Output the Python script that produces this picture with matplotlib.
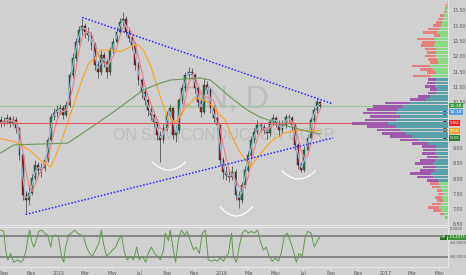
import datetime as dt

import matplotlib
matplotlib.use("Agg")
import matplotlib.dates as mdates
import matplotlib.pyplot as plt
import matplotlib.transforms as mtransforms
import numpy as np
import pandas as pd

START = dt.date(2014, 8, 25)
BG = "#d0d0d0"

# weekly candles
closes = [9.82, 9.88, 9.98, 9.82, 9.92, 9.65, 8.77, 7.46, 7.30, 7.53,
          8.02, 8.44, 8.28, 8.35, 8.60, 9.26, 10.00, 10.14, 10.24, 10.30,
          10.08, 10.40, 11.39, 11.94, 12.46, 12.86, 13.00, 12.80, 12.70, 12.37,
          11.71, 11.48, 12.04, 11.80, 11.48, 12.20, 12.46, 12.80, 13.12, 13.20,
          12.80, 12.60, 12.37, 11.71, 11.22, 10.83, 10.57, 10.24, 10.08, 9.85,
          9.42, 9.26, 9.65, 10.08, 10.30, 9.42, 9.59, 10.57, 10.96, 11.39,
          11.48, 11.39, 10.96, 10.50, 10.18, 11.06, 10.90, 10.30, 9.98, 9.75,
          8.60, 8.22, 8.12, 8.05, 8.22, 7.46, 7.30, 7.79, 8.28, 8.77,
          9.26, 9.52, 9.75, 9.69, 9.59, 9.49, 9.85, 9.98, 9.82, 9.59,
          9.75, 10.00, 9.98, 9.75, 9.10, 8.44, 8.28, 8.93, 9.33, 9.92,
          10.24, 10.50, 10.38]
highs = [10.05, 10.02, 10.12, 10.05, 10.05, 10.00, 9.70, 8.85, 7.60, 7.80,
         8.15, 8.60, 8.55, 8.50, 8.75, 9.35, 10.10, 10.30, 10.40, 10.45,
         10.40, 10.55, 11.50, 12.10, 12.60, 13.00, 13.25, 13.10, 12.95, 12.80,
         12.45, 11.85, 12.20, 12.15, 11.90, 12.30, 12.60, 12.95, 13.25, 13.45,
         13.30, 12.90, 12.70, 12.45, 11.80, 11.30, 10.95, 10.70, 10.40, 10.20,
         9.95, 9.55, 9.80, 10.20, 10.45, 10.35, 9.75, 10.65, 11.10, 11.50,
         11.65, 11.60, 11.45, 11.05, 10.60, 11.30, 11.20, 10.95, 10.40, 10.10,
         9.80, 8.70, 8.40, 8.30, 8.40, 8.30, 7.60, 7.90, 8.40, 8.90,
         9.40, 9.65, 9.90, 9.85, 9.80, 9.70, 9.95, 10.10, 10.05, 9.90,
         9.90, 10.12, 10.10, 10.05, 9.80, 9.15, 8.55, 9.05, 9.45, 10.00,
         10.35, 10.62, 10.55]
lows = [9.70, 9.72, 9.80, 9.70, 9.75, 9.50, 8.60, 7.30, 6.88, 7.15,
        7.45, 7.95, 8.10, 8.05, 8.25, 8.55, 9.20, 9.90, 10.00, 10.10,
        9.95, 10.00, 10.35, 11.30, 11.85, 12.35, 12.70, 12.60, 12.50, 12.20,
        11.55, 11.30, 11.40, 11.65, 11.30, 11.40, 12.10, 12.35, 12.70, 13.00,
        12.65, 12.45, 12.20, 11.55, 11.05, 10.65, 10.40, 10.05, 9.90, 9.70,
        9.25, 8.55, 9.15, 9.55, 10.00, 9.30, 9.20, 9.50, 10.45, 10.85,
        11.25, 11.25, 10.80, 10.35, 10.00, 10.10, 10.75, 10.15, 9.85, 9.60,
        8.45, 8.00, 7.95, 7.90, 7.95, 7.30, 7.05, 7.20, 7.70, 8.20,
        8.70, 9.15, 9.45, 9.55, 9.45, 9.30, 9.40, 9.75, 9.70, 9.40,
        9.50, 9.65, 9.85, 9.60, 8.95, 8.30, 8.20, 8.22, 8.85, 9.25,
        9.85, 10.15, 10.30]
first_open = 9.90

# slower moving averages (days after START, price)
orange_days = [0, 33, 67, 89, 112, 134, 156, 179, 196, 212, 223, 246, 268, 290,
               306, 319, 335, 357, 373, 391, 413, 435, 458, 475, 502, 529, 558,
               580, 603, 636, 670, 714]
orange_vals = [9.30, 9.20, 8.90, 8.60, 8.38, 9.15, 10.10, 11.10, 11.75, 11.95,
               12.20, 12.20, 12.15, 12.30, 12.40, 12.20, 11.70, 10.67, 10.00,
               9.85, 10.30, 10.65, 10.55, 10.35, 9.90, 9.00, 8.38, 8.80, 9.20,
               9.50, 9.58, 9.56]
green_days = [0, 29, 150, 223, 261, 319, 357, 379, 446, 469, 513, 551, 580,
              632, 692, 714]
green_vals = [8.84, 9.10, 9.16, 9.88, 10.27, 10.90, 11.12, 11.22, 11.29, 11.22,
              10.67, 10.24, 10.01, 9.75, 9.52, 9.46]

# Williams %R pane (days after START, value)
wr_days = [0, 7, 11, 16, 22, 29, 38, 45, 51, 56, 60, 65, 69, 74, 78, 85, 92,
           98, 105, 112, 116, 123, 129, 136, 141, 145, 152, 158, 165, 172, 179,
           185, 192, 199, 205, 212, 219, 225, 230, 237, 243, 250, 257, 263, 270,
           277, 283, 290, 297, 304, 310, 317, 324, 330, 337, 344, 350, 357, 364,
           368, 375, 379, 386, 391, 397, 404, 411, 417, 424, 431, 437, 444, 451,
           458, 464, 471, 478, 484, 491, 498, 504, 509, 516, 520, 527, 533, 540,
           547, 554, 560, 567, 574, 580, 587, 594, 600, 607, 614, 621, 627, 634,
           641, 647, 654, 661, 667, 674, 681, 687, 694, 701, 708, 714]
wr_vals = [-3, -7, -60, -88, -70, -95, -88, -95, -88, -65, -33, -3, -33, -52,
           -38, -7, -3, -12, -17, -52, -21, -17, -21, -78, -95, -52, -17, -12,
           -3, -12, -17, -21, -52, -70, -78, -60, -43, -3, -43, -78, -70, -60,
           -52, -33, -17, -70, -88, -78, -88, -52, -88, -78, -95, -70, -52, -70,
           -78, -88, -60, -12, -33, -3, -60, -95, -33, -3, -17, -7, -33, -60,
           -52, -70, -12, -3, -88, -92, -88, -92, -83, -92, -78, -70, -12, -78,
           -95, -52, -12, -3, -12, -7, -12, -3, -33, -60, -52, -78, -92, -83,
           -92, -70, -21, -12, -33, -60, -95, -70, -78, -21, -7, -12, -52, -33,
           -23]

# visible range volume profile, top row first
vp_total = [1, 2, 3, 4, 8, 10, 12, 15, 20, 25,
            14, 31, 26, 27, 23, 21, 23, 20, 18, 36,
            28, 21, 35, 20, 21, 23, 18, 20, 30, 38,
            63, 75, 81, 85, 78, 83, 96, 81, 71, 66,
            58, 48, 36, 26, 25, 26, 21, 28, 33, 25,
            28, 38, 31, 21, 18, 16, 11, 10, 13, 11,
            16, 20, 15, 8, 3]
vp_up = [1, 1, 2, 2, 4, 5, 6, 7, 9, 11,
         8, 14, 13, 14, 12, 12, 13, 11, 10, 18,
         15, 12, 17, 12, 13, 13, 11, 12, 18, 22,
         38, 45, 50, 52, 48, 52, 60, 52, 48, 42,
         36, 30, 20, 12, 12, 13, 10, 13, 15, 12,
         13, 17, 15, 10, 9, 8, 6, 5, 6, 5,
         7, 9, 7, 4, 2]
vp_top, vp_bottom = 13.77, 6.73
va_rows = (23, 53)

# trendlines and pattern arcs: (day, price) pairs
upper_line = ((182, 13.27), (743, 10.44))
lower_line = ((56, 6.83), (743, 9.33))
arcs = [(339, 413, 8.54, 8.28), (491, 562, 7.07, 6.78), (629, 703, 8.25, 7.99)]

last_price = 10.38
poc_price = 9.82
tags = [(10.38, "10.38", "#3f9b3f", None), (10.18, "10.18", "#5b9be0", "#2f6fb8"),
        (9.82, "9.82", "#f02020", "#8a3a3a"), (9.56, "9.56", "#f0a020", "#8a6a2a"),
        (9.33, "9.33", "#2e7d32", "#2e5d32")]

# scale labels; 10.00 and 9.50 sit under the price tags
price_ticks = [6.5, 7.0, 7.5, 8.0, 8.5, 9.0, 10.5, 11.0, 11.5, 12.0,
               12.5, 13.0, 13.5]


def day(n):
    return mdates.date2num(START) + n


W, H = 466, 275
fig = plt.figure(figsize=(W / 100, H / 100), dpi=100, facecolor=BG)
ax = fig.add_axes([0, 1 - 225 / H, 448 / W, 225 / H], facecolor=BG)
osc = fig.add_axes([0, 8 / H, 448 / W, 40 / H], facecolor=BG, sharex=ax)

closes = np.array(closes)
opens = np.r_[first_open, closes[:-1]]
xs = mdates.date2num(START) + 7 * np.arange(len(closes))
up = closes >= opens

ax.vlines(xs, lows, highs, color="#2b2b2b", lw=0.45, zorder=2)
ax.bar(xs[up], (closes - opens)[up], bottom=opens[up], width=4.2,
       color="#2f7a45", edgecolor="#1d1d1d", lw=0.3, zorder=2.1)
ax.bar(xs[~up], (opens - closes)[~up], bottom=closes[~up], width=4.2,
       color="#9b2226", edgecolor="#1d1d1d", lw=0.3, zorder=2.1)

s = pd.Series(closes)
ax.plot(xs, s.rolling(2, min_periods=1).mean(), color="#9cc2e8", lw=0.8, zorder=3)
ax.plot(xs, s.rolling(4, min_periods=1).mean(), color="#ee7f7f", lw=0.8, zorder=3)
ax.plot(day(np.array(orange_days)), orange_vals, color="#ffa21f", lw=0.8, zorder=3)
ax.plot(day(np.array(green_days)), green_vals, color="#6e9a58", lw=0.8, zorder=3)

for (d0, p0), (d1, p1) in (upper_line, lower_line):
    ax.plot([day(d0), day(d1)], [p0, p1], color="#2a2aff", lw=1.1,
            linestyle=(0, (1, 1.2)), zorder=4)

for d0, d1, p_end, p_bot in arcs:
    t = np.linspace(-1, 1, 40)
    ax.plot(day(d0) + (t + 1) / 2 * (d1 - d0), p_bot + (p_end - p_bot) * t ** 2,
            color="white", lw=0.9, zorder=4)

ax.axhline(last_price, color="#9cc79c", lw=0.8, zorder=1.5)
ax.axhline(poc_price, color="#e25a5a", lw=0.8, zorder=5)

ax.text(0.5, 0.556, "ON, D", transform=ax.transAxes, ha="center", va="center",
        fontsize=23, color="#bdbdbd", family="Liberation Sans", zorder=0.5)
ax.text(0.5, 0.40, "ON SEMICONDUCTOR CORP", transform=ax.transAxes, ha="center",
        va="center", fontsize=11.5, color="#bdbdbd", family="Liberation Sans",
        zorder=0.5)

# volume profile on a twin axis growing leftward from the price scale
vp = ax.twiny()
rows = np.linspace(vp_top, vp_bottom, len(vp_total))
step = (vp_top - vp_bottom) / (len(vp_total) - 1)
vp_total = np.array(vp_total)
vp_up = np.array(vp_up)
in_va = (np.arange(len(rows)) >= va_rows[0]) & (np.arange(len(rows)) <= va_rows[1])
up_col = np.where(in_va, "#58a1ab", "#82dd82")
dn_col = np.where(in_va, "#a05aab", "#e77f7f")
vp.barh(rows, vp_up, height=step * 0.78, color=up_col, lw=0, zorder=2)
vp.barh(rows, vp_total - vp_up, left=vp_up, height=step * 0.78, color=dn_col,
        lw=0, zorder=2)
vp.set_xlim(vp_total.max() * 448 / 96, 0)
vp.set_xticks([])
for sp in vp.spines.values():
    sp.set_visible(False)

ax.set_xlim(day(-1.5), day(1000))
ax.set_ylim(9 - 77 / 30.6, 9 + 148 / 30.6)
ax.yaxis.tick_right()
ax.set_yticks(price_ticks)
ax.set_yticklabels([f"{v:.2f}" for v in price_ticks])
ax.tick_params(axis="y", labelsize=3.4, pad=2, length=1.5, colors="#f2f2f2",
               labelcolor="#555555", width=0.5)
ax.tick_params(axis="x", bottom=False, labelbottom=False)
for name, sp in ax.spines.items():
    sp.set_visible(name in ("right", "bottom"))
    sp.set_color("#e6e6e6")
    sp.set_linewidth(0.8)

trans = mtransforms.blended_transform_factory(ax.transAxes, ax.transData)
for price, label, col, side in tags:
    ax.text(1.004, price, label, transform=trans, ha="left", va="center",
            fontsize=3.2, color="white", zorder=10,
            bbox=dict(boxstyle="square,pad=0.15", fc=col, ec="none"))
    if side:
        ax.text(0.996, price, "  ", transform=trans, ha="right", va="center",
                fontsize=3.2, zorder=10,
                bbox=dict(boxstyle="square,pad=0.15", fc=side, ec="none"))

# oscillator pane
osc.plot(day(np.array(wr_days)), wr_vals, color="#5f9a4e", lw=0.7, zorder=3)
for lvl in (-20, -80):
    osc.axhline(lvl, color="#858585", lw=1.4, zorder=2)
osc.set_ylim(-108.6, 5.7)
osc.yaxis.tick_right()
osc.set_yticks([0, -40, -80])
osc.set_yticklabels(["0.0000", "-40.0000", "-80.0000"])
osc.tick_params(axis="y", labelsize=2.7, pad=0.6, length=1.0, colors="#f2f2f2",
                labelcolor="#555555", width=0.5)
otrans = mtransforms.blended_transform_factory(osc.transAxes, osc.transData)
osc.text(1.002, -23.4375, "-23.4375", transform=otrans, ha="left", va="center",
         fontsize=2.7, color="white", zorder=10,
         bbox=dict(boxstyle="square,pad=0.12", fc="#3f8f3a", ec="none"))
osc.text(0.996, -23.4375, "%R", transform=otrans, ha="right", va="center",
         fontsize=2.7, color="white", zorder=10,
         bbox=dict(boxstyle="square,pad=0.12", fc="#2e6b2a", ec="none"))

osc.xaxis.set_major_locator(mdates.MonthLocator(bymonth=[1, 3, 5, 7, 9, 11]))
osc.xaxis.set_major_formatter(plt.FuncFormatter(
    lambda v, _: mdates.num2date(v).strftime("%Y" if mdates.num2date(v).month == 1 else "%b")))
osc.tick_params(axis="x", labelsize=3.4, pad=1.5, length=1.5, colors="#f2f2f2",
                labelcolor="#555555", width=0.5)
for name, sp in osc.spines.items():
    sp.set_visible(name in ("right", "bottom", "top"))
    sp.set_color("#e6e6e6")
    sp.set_linewidth(0.8)

fig.savefig("out.png", dpi=100, facecolor=BG)
